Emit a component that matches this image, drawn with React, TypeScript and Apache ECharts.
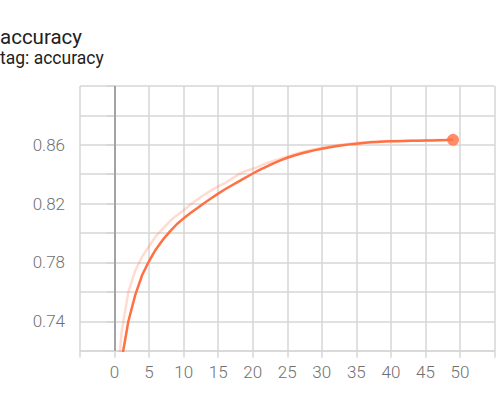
import React, { useEffect, useRef } from "react";
import * as echarts from "echarts";

const epochs: number[] = Array.from({ length: 50 }, (_, i) => i);

// raw (faded) accuracy values per epoch
const rawAccuracy: number[] = [
  0.67, 0.732, 0.76, 0.7745, 0.784, 0.791, 0.798, 0.803, 0.808, 0.812,
  0.8155, 0.8195, 0.823, 0.826, 0.829, 0.8317, 0.834, 0.837, 0.84, 0.8422,
  0.8437, 0.8455, 0.8475, 0.849, 0.8505, 0.852, 0.8535, 0.855, 0.856, 0.857,
  0.858, 0.8588, 0.8596, 0.8602, 0.8608, 0.8612, 0.8616, 0.862, 0.8622, 0.8624,
  0.8626, 0.8627, 0.8628, 0.8629, 0.863, 0.8631, 0.8632, 0.8633, 0.8634, 0.8635,
];

// smoothed (bold) accuracy values per epoch
const smoothedAccuracy: number[] = [
  0.67, 0.713, 0.74, 0.758, 0.7715, 0.781, 0.789, 0.7955, 0.801, 0.806,
  0.81, 0.8136, 0.817, 0.8205, 0.8237, 0.8268, 0.8298, 0.8325, 0.8352, 0.8378,
  0.8405, 0.8429, 0.8452, 0.8474, 0.8494, 0.8512, 0.8527, 0.8541, 0.8553, 0.8564,
  0.8573, 0.8582, 0.859, 0.8597, 0.8603, 0.8608, 0.8613, 0.8617, 0.862, 0.8622,
  0.8624, 0.8625, 0.8626, 0.8627, 0.8628, 0.8629, 0.863, 0.8631, 0.8632, 0.8634,
];

const yTickLabels: string[] = ["0.74", "0.78", "0.82", "0.86"];
const xTickLabels: number[] = [0, 5, 10, 15, 20, 25, 30, 35, 40, 45, 50];

const GRID = "#d6d6d6";
const LABEL = "#707070";
const ORANGE = "#ff7043";

export default function App() {
  const ref = useRef<HTMLDivElement>(null);
  useEffect(() => {
    if (!ref.current) return;
    const chart = echarts.init(ref.current, undefined, { renderer: "svg" });
    const last = epochs.length - 1;
    chart.setOption({
      animation: false,
      title: [
        {
          text: "accuracy",
          left: 0,
          top: 26,
          padding: 0,
          textStyle: { fontFamily: "Roboto", fontSize: 20.5, fontWeight: "normal", color: "#212121" },
        },
        {
          text: "tag: accuracy",
          left: 0,
          top: 49,
          padding: 0,
          textStyle: { fontFamily: "Roboto", fontSize: 17.5, fontWeight: "normal", color: "#212121" },
        },
      ],
      grid: { left: 80, right: 6.5, top: 86, bottom: 43.3, containLabel: false },
      xAxis: {
        type: "value",
        min: -5,
        max: 55,
        interval: 5,
        axisLine: { show: true, lineStyle: { color: GRID, width: 1.5 } },
        axisTick: { show: true, length: 7, lineStyle: { color: GRID, width: 1.5 } },
        splitLine: { show: true, lineStyle: { color: GRID, width: 1.5 } },
        axisLabel: {
          margin: 13,
          color: LABEL,
          fontFamily: "Roboto",
          fontWeight: 300,
          fontSize: 17,
          formatter: (v: number) => (xTickLabels.includes(Math.round(v)) ? String(Math.round(v)) : ""),
        },
      },
      yAxis: {
        type: "value",
        min: 0.72,
        max: 0.9,
        interval: 0.02,
        axisLine: { show: true, lineStyle: { color: GRID, width: 1.5 } },
        axisTick: { show: true, length: 8, lineStyle: { color: GRID, width: 1.5 } },
        splitLine: { show: true, lineStyle: { color: GRID, width: 1.5 } },
        axisLabel: {
          margin: 15,
          color: LABEL,
          fontFamily: "Roboto",
          fontWeight: 300,
          fontSize: 17,
          formatter: (v: number) => {
            const s = v.toFixed(2);
            return yTickLabels.includes(s) ? s : "";
          },
        },
      },
      series: [
        {
          type: "line",
          name: "raw",
          data: epochs.map((e, i) => [e, rawAccuracy[i]]),
          symbol: "none",
          lineStyle: { color: "rgba(255,112,67,0.25)", width: 2.5 },
          z: 2,
          markLine: {
            silent: true,
            symbol: "none",
            label: { show: false },
            lineStyle: { color: "#9e9e9e", type: "solid", width: 1.8 },
            data: [{ xAxis: 0 }],
          },
        },
        {
          type: "line",
          name: "smoothed",
          data: epochs.map((e, i) => [e, smoothedAccuracy[i]]),
          symbol: "none",
          lineStyle: { color: ORANGE, width: 2.5 },
          z: 3,
        },
        {
          type: "scatter",
          data: [[epochs[last], smoothedAccuracy[last]]],
          symbolSize: 12,
          itemStyle: { color: ORANGE },
          z: 4,
        },
      ],
    });
    return () => chart.dispose();
  }, []);
  return <div ref={ref} style={{ position: "absolute", left: 0, top: 0, width: 501, height: 394 }} />;
}
